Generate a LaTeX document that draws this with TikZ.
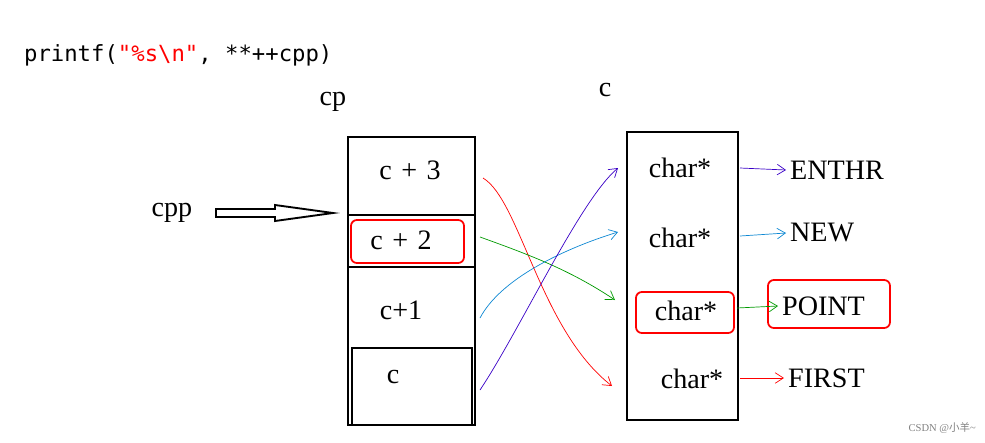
\documentclass[tikz,border=0pt]{standalone}
\usepackage{fontspec}
\setmainfont{Liberation Serif}
\newfontfamily\monof{DejaVu Sans Mono}
\newfontfamily\cjk{Noto Sans CJK SC}
\usetikzlibrary{arrows.meta}
\tikzstyle{lbl} = [font=\fontsize{24}{26}\selectfont]
\tikzstyle{redbox} = [draw=red, line width=1.5pt, rounded corners=5pt]
\tikzstyle{arrow} = [->, >={Straight Barb[length=7pt,width=9pt]}, line width=0.6pt]
\tikzstyle{frame} = [line width=2.4pt]
\colorlet{cA}{blue!70!purple}
\colorlet{cB}{cyan!70!blue}
\colorlet{cC}{green!60!black}

\begin{document}
\begin{tikzpicture}[x=0.03cm, y=-0.03cm]
\useasboundingbox (0,0) rectangle (985,442);
\node[anchor=west, font=\monof\fontsize{19}{21}\selectfont] (code) at (20,55)
  {printf(\textcolor{red}{"\%s\textbackslash n"}, **++cpp)};
\node[lbl] (cp) at (333,102) {cp};
\node[lbl] (cc) at (605,90) {c};
\node[lbl] (cpp) at (172,213) {cpp};

% cp array
\draw[frame] (348,137) rectangle (475,425);
\draw[frame] (348,215) -- (475,215);
\draw[line width=1.6pt] (348,267) -- (475,267);
\draw[frame] (352,348) rectangle (472,425);
\node[lbl] (p3) at (410,170) {c\,\,+\,\,3};
\node[lbl] (p2) at (401,240) {c\,\,+\,\,2};
\node[lbl] (p1) at (401,310) {c+1};
\node[lbl] (p0) at (393,377) {c};
\draw[redbox] (351,220) rectangle (464,263);

% c array
\draw[frame] (627,132) rectangle (738,420);
\node[lbl] (s0) at (680,168) {char*};
\node[lbl] (s1) at (680,238) {char*};
\node[lbl] (s2) at (686,311) {char*};
\node[lbl] (s3) at (692,379) {char*};
\draw[redbox] (636,292) rectangle (734,333);

% strings
\node[lbl, anchor=west] (w0) at (786,170) {ENTHR};
\node[lbl, anchor=west] (w1) at (786,233) {NEW};
\node[lbl, anchor=west] (w2) at (778,306) {POINT};
\node[lbl, anchor=west] (w3) at (784,378) {FIRST};
\draw[redbox] (768,280) rectangle (890,328);

\coordinate (e0) at (740,168);
\coordinate (e1) at (740,236);
\coordinate (e2) at (737,308);
\coordinate (e3) at (740,378);
\draw[arrow, cA] (e0) -- (w0.west);
\draw[arrow, cB] (e1) -- (w1.west);
\draw[arrow, cC] (e2) -- (w2.west);
\draw[arrow, red] (e3) -- (w3.west);

% hollow arrow for cpp
\draw[line width=1.6pt] (216,209) -- (275,209) -- (275,205) -- (333,213) -- (275,221) -- (275,217) -- (216,217) -- cycle;

% cross links
\coordinate (a3) at (483,178);
\coordinate (a2) at (480,237);
\coordinate (a1) at (480,318);
\coordinate (a0) at (480,390);
\draw[arrow, red] (a3) .. controls (520,200) and (540,330) .. (612,386);
\draw[arrow, cC] (a2) .. controls (530,255) and (570,270) .. (615,300);
\draw[arrow, cB] (a1) .. controls (500,280) and (560,250) .. (618,232);
\draw[arrow, cA] (a0) .. controls (520,330) and (580,200) .. (618,168);

\node[anchor=east, font=\fontsize{9}{10}\selectfont, text=gray] (mk) at (980,428) {CSDN @{\cjk 小羊}\textasciitilde};
\end{tikzpicture}
\end{document}
